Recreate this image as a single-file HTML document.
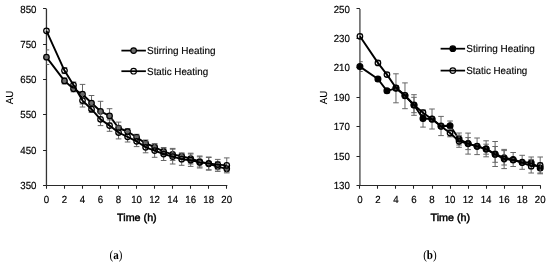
<!DOCTYPE html>
<html><head><meta charset="utf-8"><title>Chart</title>
<style>
html,body{margin:0;padding:0;background:#fff;}
body{width:550px;height:266px;overflow:hidden;}
svg{display:block;text-rendering:geometricPrecision;}
.t{font-family:"Liberation Sans",Arial,sans-serif;font-size:9.7px;fill:#000;stroke:#000;stroke-width:0.2px;}
.lg{font-family:"Liberation Sans",Arial,sans-serif;font-size:10.2px;fill:#000;stroke:#000;stroke-width:0.15px;}
.au{font-family:"Liberation Sans",Arial,sans-serif;font-size:10.2px;fill:#000;stroke:#000;stroke-width:0.1px;}
.n{font-family:"Liberation Sans",Arial,sans-serif;font-size:10.3px;fill:#000;stroke:#000;stroke-width:0.18px;}
.b{font-family:"Liberation Sans",Arial,sans-serif;font-size:10.4px;font-weight:normal;fill:#000;stroke:#000;stroke-width:0.45px;}
.c{font-family:"Liberation Serif","Times New Roman",serif;font-size:12.5px;fill:#000;}
</style></head>
<body>
<svg width="550" height="266" viewBox="0 0 550 266">
<rect width="550" height="266" fill="#fff"/>
<clipPath id="cl"><rect x="46.45" y="0" width="184.30" height="185.50"/></clipPath>
<path d="M46.45 8.90V185.50" fill="none" stroke="#333" stroke-width="1.3"/>
<path d="M46.45 185.50H227.35" fill="none" stroke="#2a2a2a" stroke-width="1.2"/>
<text x="36.45" y="12.50" text-anchor="end" class="n" textLength="16.20" lengthAdjust="spacingAndGlyphs">850</text>
<text x="36.45" y="47.82" text-anchor="end" class="n" textLength="16.20" lengthAdjust="spacingAndGlyphs">750</text>
<text x="36.45" y="83.14" text-anchor="end" class="n" textLength="16.20" lengthAdjust="spacingAndGlyphs">650</text>
<text x="36.45" y="118.46" text-anchor="end" class="n" textLength="16.20" lengthAdjust="spacingAndGlyphs">550</text>
<text x="36.45" y="153.78" text-anchor="end" class="n" textLength="16.20" lengthAdjust="spacingAndGlyphs">450</text>
<text x="36.45" y="189.10" text-anchor="end" class="n" textLength="16.20" lengthAdjust="spacingAndGlyphs">350</text>
<text x="46.45" y="202.80" text-anchor="middle" class="n" textLength="5.40" lengthAdjust="spacingAndGlyphs">0</text>
<text x="64.48" y="202.80" text-anchor="middle" class="n" textLength="5.40" lengthAdjust="spacingAndGlyphs">2</text>
<text x="82.51" y="202.80" text-anchor="middle" class="n" textLength="5.40" lengthAdjust="spacingAndGlyphs">4</text>
<text x="100.54" y="202.80" text-anchor="middle" class="n" textLength="5.40" lengthAdjust="spacingAndGlyphs">6</text>
<text x="118.57" y="202.80" text-anchor="middle" class="n" textLength="5.40" lengthAdjust="spacingAndGlyphs">8</text>
<text x="136.60" y="202.80" text-anchor="middle" class="n" textLength="10.80" lengthAdjust="spacingAndGlyphs">10</text>
<text x="154.63" y="202.80" text-anchor="middle" class="n" textLength="10.80" lengthAdjust="spacingAndGlyphs">12</text>
<text x="172.66" y="202.80" text-anchor="middle" class="n" textLength="10.80" lengthAdjust="spacingAndGlyphs">14</text>
<text x="190.69" y="202.80" text-anchor="middle" class="n" textLength="10.80" lengthAdjust="spacingAndGlyphs">16</text>
<text x="208.72" y="202.80" text-anchor="middle" class="n" textLength="10.80" lengthAdjust="spacingAndGlyphs">18</text>
<text x="226.75" y="202.80" text-anchor="middle" class="n" textLength="10.80" lengthAdjust="spacingAndGlyphs">20</text>
<path d="M43.05 8.50H46.45M43.05 44.50H46.45M43.05 79.50H46.45M43.05 114.50H46.45M43.05 150.50H46.45M43.05 185.50H46.45M46.50 185.50V188.70M64.50 185.50V188.70M82.50 185.50V188.70M100.50 185.50V188.70M118.50 185.50V188.70M136.50 185.50V188.70M154.50 185.50V188.70M172.50 185.50V188.70M190.50 185.50V188.70M208.50 185.50V188.70M226.50 185.50V188.70" fill="none" stroke="#222" stroke-width="1.05"/>
<path d="M46.45 49.90V64.50M43.65 49.90H49.25M43.65 64.50H49.25M64.48 77.90V83.90M61.68 77.90H67.28M61.68 83.90H67.28M73.50 85.80V91.80M70.70 85.80H76.30M70.70 91.80H76.30M82.51 84.40V104.00M79.71 84.40H85.31M79.71 104.00H85.31M91.53 95.50V110.50M88.73 95.50H94.33M88.73 110.50H94.33M100.54 101.30V121.30M97.74 101.30H103.34M97.74 121.30H103.34M109.56 108.70V123.10M106.76 108.70H112.36M106.76 123.10H112.36M118.57 122.10V133.90M115.77 122.10H121.37M115.77 133.90H121.37M127.59 128.50V134.50M124.79 128.50H130.39M124.79 134.50H130.39M136.60 134.30V140.30M133.80 134.30H139.40M133.80 140.30H139.40M145.62 140.00V146.80M142.81 140.00H148.42M142.81 146.80H148.42M154.63 143.80V150.20M151.83 143.80H157.43M151.83 150.20H157.43M163.65 148.30V155.10M160.84 148.30H166.45M160.84 155.10H166.45M172.66 148.40V160.40M169.86 148.40H175.46M169.86 160.40H175.46M181.68 153.20V159.20M178.88 153.20H184.48M178.88 159.20H184.48M190.69 153.20V164.00M187.89 153.20H193.49M187.89 164.00H193.49M199.70 156.00V167.00M196.90 156.00H202.50M196.90 167.00H202.50M208.72 157.50V170.10M205.92 157.50H211.52M205.92 170.10H211.52M217.74 161.80V171.40M214.94 161.80H220.54M214.94 171.40H220.54M226.75 165.80V171.80M223.95 165.80H229.55M223.95 171.80H229.55" fill="none" stroke="#666" stroke-width="1" clip-path="url(#cl)"/>
<polyline points="46.45,57.20 64.48,80.90 73.50,88.80 82.51,94.20 91.53,103.00 100.54,111.30 109.56,115.90 118.57,128.00 127.59,131.50 136.60,137.30 145.62,143.40 154.63,147.00 163.65,151.70 172.66,154.40 181.68,156.20 190.69,158.60 199.70,161.50 208.72,163.80 217.74,166.60 226.75,168.80" fill="none" stroke="#000" stroke-width="1.9" stroke-linejoin="round"/>
<circle cx="46.45" cy="57.20" r="2.75" fill="#6e6e6e" stroke="#000" stroke-width="1.25"/><circle cx="64.48" cy="80.90" r="2.75" fill="#6e6e6e" stroke="#000" stroke-width="1.25"/><circle cx="73.50" cy="88.80" r="2.75" fill="#6e6e6e" stroke="#000" stroke-width="1.25"/><circle cx="82.51" cy="94.20" r="2.75" fill="#6e6e6e" stroke="#000" stroke-width="1.25"/><circle cx="91.53" cy="103.00" r="2.75" fill="#6e6e6e" stroke="#000" stroke-width="1.25"/><circle cx="100.54" cy="111.30" r="2.75" fill="#6e6e6e" stroke="#000" stroke-width="1.25"/><circle cx="109.56" cy="115.90" r="2.75" fill="#6e6e6e" stroke="#000" stroke-width="1.25"/><circle cx="118.57" cy="128.00" r="2.75" fill="#6e6e6e" stroke="#000" stroke-width="1.25"/><circle cx="127.59" cy="131.50" r="2.75" fill="#6e6e6e" stroke="#000" stroke-width="1.25"/><circle cx="136.60" cy="137.30" r="2.75" fill="#6e6e6e" stroke="#000" stroke-width="1.25"/><circle cx="145.62" cy="143.40" r="2.75" fill="#6e6e6e" stroke="#000" stroke-width="1.25"/><circle cx="154.63" cy="147.00" r="2.75" fill="#6e6e6e" stroke="#000" stroke-width="1.25"/><circle cx="163.65" cy="151.70" r="2.75" fill="#6e6e6e" stroke="#000" stroke-width="1.25"/><circle cx="172.66" cy="154.40" r="2.75" fill="#6e6e6e" stroke="#000" stroke-width="1.25"/><circle cx="181.68" cy="156.20" r="2.75" fill="#6e6e6e" stroke="#000" stroke-width="1.25"/><circle cx="190.69" cy="158.60" r="2.75" fill="#6e6e6e" stroke="#000" stroke-width="1.25"/><circle cx="199.70" cy="161.50" r="2.75" fill="#6e6e6e" stroke="#000" stroke-width="1.25"/><circle cx="208.72" cy="163.80" r="2.75" fill="#6e6e6e" stroke="#000" stroke-width="1.25"/><circle cx="217.74" cy="166.60" r="2.75" fill="#6e6e6e" stroke="#000" stroke-width="1.25"/><circle cx="226.75" cy="168.80" r="2.75" fill="#6e6e6e" stroke="#000" stroke-width="1.25"/>
<path d="M46.45 28.80V32.80M43.65 28.80H49.25M43.65 32.80H49.25M64.48 67.60V73.60M61.68 67.60H67.28M61.68 73.60H67.28M73.50 82.00V88.00M70.70 82.00H76.30M70.70 88.00H76.30M82.51 94.20V107.00M79.71 94.20H85.31M79.71 107.00H85.31M91.53 106.00V112.40M88.73 106.00H94.33M88.73 112.40H94.33M100.54 113.00V125.60M97.74 113.00H103.34M97.74 125.60H103.34M109.56 119.90V131.30M106.76 119.90H112.36M106.76 131.30H112.36M118.57 126.10V138.90M115.77 126.10H121.37M115.77 138.90H121.37M127.59 131.60V142.00M124.79 131.60H130.39M124.79 142.00H130.39M136.60 136.00V146.60M133.80 136.00H139.40M133.80 146.60H139.40M145.62 141.80V152.80M142.81 141.80H148.42M142.81 152.80H148.42M154.63 143.90V157.30M151.83 143.90H157.43M151.83 157.30H157.43M163.65 147.50V160.50M160.84 147.50H166.45M160.84 160.50H166.45M172.66 149.20V164.00M169.86 149.20H175.46M169.86 164.00H175.46M181.68 153.10V165.30M178.88 153.10H184.48M178.88 165.30H184.48M190.69 154.00V166.40M187.89 154.00H193.49M187.89 166.40H193.49M199.70 156.80V168.00M196.90 156.80H202.50M196.90 168.00H202.50M208.72 157.00V169.80M205.92 157.00H211.52M205.92 169.80H211.52M217.74 159.40V169.80M214.94 159.40H220.54M214.94 169.80H220.54M226.75 157.90V172.90M223.95 157.90H229.55M223.95 172.90H229.55" fill="none" stroke="#666" stroke-width="1" clip-path="url(#cl)"/>
<polyline points="46.45,30.80 64.48,70.60 73.50,85.00 82.51,100.60 91.53,109.20 100.54,119.30 109.56,125.60 118.57,132.50 127.59,136.80 136.60,141.30 145.62,147.30 154.63,150.60 163.65,154.00 172.66,156.60 181.68,159.20 190.69,160.20 199.70,162.40 208.72,163.40 217.74,164.60 226.75,165.40" fill="none" stroke="#000" stroke-width="1.9" stroke-linejoin="round"/>
<circle cx="46.45" cy="30.80" r="2.75" fill="none" stroke="#000" stroke-width="1.25"/><circle cx="64.48" cy="70.60" r="2.75" fill="none" stroke="#000" stroke-width="1.25"/><circle cx="73.50" cy="85.00" r="2.75" fill="none" stroke="#000" stroke-width="1.25"/><circle cx="82.51" cy="100.60" r="2.75" fill="none" stroke="#000" stroke-width="1.25"/><circle cx="91.53" cy="109.20" r="2.75" fill="none" stroke="#000" stroke-width="1.25"/><circle cx="100.54" cy="119.30" r="2.75" fill="none" stroke="#000" stroke-width="1.25"/><circle cx="109.56" cy="125.60" r="2.75" fill="none" stroke="#000" stroke-width="1.25"/><circle cx="118.57" cy="132.50" r="2.75" fill="none" stroke="#000" stroke-width="1.25"/><circle cx="127.59" cy="136.80" r="2.75" fill="none" stroke="#000" stroke-width="1.25"/><circle cx="136.60" cy="141.30" r="2.75" fill="none" stroke="#000" stroke-width="1.25"/><circle cx="145.62" cy="147.30" r="2.75" fill="none" stroke="#000" stroke-width="1.25"/><circle cx="154.63" cy="150.60" r="2.75" fill="none" stroke="#000" stroke-width="1.25"/><circle cx="163.65" cy="154.00" r="2.75" fill="none" stroke="#000" stroke-width="1.25"/><circle cx="172.66" cy="156.60" r="2.75" fill="none" stroke="#000" stroke-width="1.25"/><circle cx="181.68" cy="159.20" r="2.75" fill="none" stroke="#000" stroke-width="1.25"/><circle cx="190.69" cy="160.20" r="2.75" fill="none" stroke="#000" stroke-width="1.25"/><circle cx="199.70" cy="162.40" r="2.75" fill="none" stroke="#000" stroke-width="1.25"/><circle cx="208.72" cy="163.40" r="2.75" fill="none" stroke="#000" stroke-width="1.25"/><circle cx="217.74" cy="164.60" r="2.75" fill="none" stroke="#000" stroke-width="1.25"/><circle cx="226.75" cy="165.40" r="2.75" fill="none" stroke="#000" stroke-width="1.25"/>
<path d="M121.40 50.60H145.90" stroke="#000" stroke-width="1.75"/>
<circle cx="133.60" cy="50.60" r="2.8" fill="#6e6e6e" stroke="#000" stroke-width="1.2"/>
<text x="147.10" y="54.00" class="lg" textLength="68.5" lengthAdjust="spacingAndGlyphs">Stirring Heating</text>
<path d="M121.40 71.20H145.90" stroke="#000" stroke-width="1.75"/>
<circle cx="133.60" cy="71.20" r="2.8" fill="none" stroke="#000" stroke-width="1.2"/>
<text x="147.10" y="74.60" class="lg" textLength="61.0" lengthAdjust="spacingAndGlyphs">Static Heating</text>
<text x="136.90" y="220.6" text-anchor="middle" class="b" textLength="39.6" lengthAdjust="spacingAndGlyphs">Time (h)</text>
<text transform="translate(13.00 97.45) rotate(-90)" text-anchor="middle" class="au" textLength="13.6" lengthAdjust="spacingAndGlyphs">AU</text>
<text x="116.00" y="259.0" text-anchor="middle" class="c" textLength="12.9" lengthAdjust="spacingAndGlyphs">(<tspan font-weight="bold">a</tspan>)</text>
<clipPath id="cr"><rect x="359.90" y="0" width="184.30" height="185.50"/></clipPath>
<path d="M359.90 8.90V185.50" fill="none" stroke="#707070" stroke-width="1.7"/>
<path d="M359.90 185.50H540.80" fill="none" stroke="#2a2a2a" stroke-width="1.2"/>
<text x="349.90" y="12.50" text-anchor="end" class="n" textLength="16.20" lengthAdjust="spacingAndGlyphs">250</text>
<text x="349.90" y="41.93" text-anchor="end" class="n" textLength="16.20" lengthAdjust="spacingAndGlyphs">230</text>
<text x="349.90" y="71.37" text-anchor="end" class="n" textLength="16.20" lengthAdjust="spacingAndGlyphs">210</text>
<text x="349.90" y="100.80" text-anchor="end" class="n" textLength="16.20" lengthAdjust="spacingAndGlyphs">190</text>
<text x="349.90" y="130.23" text-anchor="end" class="n" textLength="16.20" lengthAdjust="spacingAndGlyphs">170</text>
<text x="349.90" y="159.67" text-anchor="end" class="n" textLength="16.20" lengthAdjust="spacingAndGlyphs">150</text>
<text x="349.90" y="189.10" text-anchor="end" class="n" textLength="16.20" lengthAdjust="spacingAndGlyphs">130</text>
<text x="359.90" y="202.80" text-anchor="middle" class="n" textLength="5.40" lengthAdjust="spacingAndGlyphs">0</text>
<text x="377.93" y="202.80" text-anchor="middle" class="n" textLength="5.40" lengthAdjust="spacingAndGlyphs">2</text>
<text x="395.96" y="202.80" text-anchor="middle" class="n" textLength="5.40" lengthAdjust="spacingAndGlyphs">4</text>
<text x="413.99" y="202.80" text-anchor="middle" class="n" textLength="5.40" lengthAdjust="spacingAndGlyphs">6</text>
<text x="432.02" y="202.80" text-anchor="middle" class="n" textLength="5.40" lengthAdjust="spacingAndGlyphs">8</text>
<text x="450.05" y="202.80" text-anchor="middle" class="n" textLength="10.80" lengthAdjust="spacingAndGlyphs">10</text>
<text x="468.08" y="202.80" text-anchor="middle" class="n" textLength="10.80" lengthAdjust="spacingAndGlyphs">12</text>
<text x="486.11" y="202.80" text-anchor="middle" class="n" textLength="10.80" lengthAdjust="spacingAndGlyphs">14</text>
<text x="504.14" y="202.80" text-anchor="middle" class="n" textLength="10.80" lengthAdjust="spacingAndGlyphs">16</text>
<text x="522.17" y="202.80" text-anchor="middle" class="n" textLength="10.80" lengthAdjust="spacingAndGlyphs">18</text>
<text x="540.20" y="202.80" text-anchor="middle" class="n" textLength="10.80" lengthAdjust="spacingAndGlyphs">20</text>
<path d="M356.50 8.50H359.90M356.50 38.50H359.90M356.50 67.50H359.90M356.50 97.50H359.90M356.50 126.50H359.90M356.50 156.50H359.90M356.50 185.50H359.90M359.50 185.50V188.70M377.50 185.50V188.70M395.50 185.50V188.70M413.50 185.50V188.70M432.50 185.50V188.70M450.50 185.50V188.70M468.50 185.50V188.70M486.50 185.50V188.70M504.50 185.50V188.70M522.50 185.50V188.70M540.50 185.50V188.70" fill="none" stroke="#222" stroke-width="1.05"/>
<path d="M359.90 61.70V71.50M357.10 61.70H362.70M357.10 71.50H362.70M377.93 77.00V81.00M375.13 77.00H380.73M375.13 81.00H380.73M386.94 88.80V92.80M384.14 88.80H389.75M384.14 92.80H389.75M395.96 73.80V102.80M393.16 73.80H398.76M393.16 102.80H398.76M404.97 82.90V108.70M402.17 82.90H407.77M402.17 108.70H407.77M413.99 94.70V115.30M411.19 94.70H416.79M411.19 115.30H416.79M423.00 109.90V127.10M420.20 109.90H425.81M420.20 127.10H425.81M432.02 109.00V129.00M429.22 109.00H434.82M429.22 129.00H434.82M441.03 116.40V135.60M438.23 116.40H443.83M438.23 135.60H443.83M450.05 121.00V130.60M447.25 121.00H452.85M447.25 130.60H452.85M459.06 133.00V145.00M456.26 133.00H461.87M456.26 145.00H461.87M468.08 133.10V154.10M465.28 133.10H470.88M465.28 154.10H470.88M477.09 138.00V154.60M474.29 138.00H479.89M474.29 154.60H479.89M486.11 140.80V156.80M483.31 140.80H488.91M483.31 156.80H488.91M495.12 141.50V166.50M492.32 141.50H497.93M492.32 166.50H497.93M504.14 150.60V165.00M501.34 150.60H506.94M501.34 165.00H506.94M513.15 152.50V166.50M510.35 152.50H515.95M510.35 166.50H515.95M522.17 155.30V169.30M519.37 155.30H524.97M519.37 169.30H524.97M531.18 157.00V168.60M528.38 157.00H533.98M528.38 168.60H533.98M540.20 163.00V173.00M537.40 163.00H543.00M537.40 173.00H543.00" fill="none" stroke="#666" stroke-width="1" clip-path="url(#cr)"/>
<polyline points="359.90,66.60 377.93,79.00 386.94,90.80 395.96,88.30 404.97,95.80 413.99,105.00 423.00,118.50 432.02,119.00 441.03,126.00 450.05,125.80 459.06,139.00 468.08,143.60 477.09,146.30 486.11,148.80 495.12,154.00 504.14,157.80 513.15,159.50 522.17,162.30 531.18,162.80 540.20,168.00" fill="none" stroke="#000" stroke-width="1.9" stroke-linejoin="round"/>
<circle cx="359.90" cy="66.60" r="2.9" fill="#000" stroke="#000" stroke-width="1.25"/><circle cx="377.93" cy="79.00" r="2.9" fill="#000" stroke="#000" stroke-width="1.25"/><circle cx="386.94" cy="90.80" r="2.9" fill="#000" stroke="#000" stroke-width="1.25"/><circle cx="395.96" cy="88.30" r="2.9" fill="#000" stroke="#000" stroke-width="1.25"/><circle cx="404.97" cy="95.80" r="2.9" fill="#000" stroke="#000" stroke-width="1.25"/><circle cx="413.99" cy="105.00" r="2.9" fill="#000" stroke="#000" stroke-width="1.25"/><circle cx="423.00" cy="118.50" r="2.9" fill="#000" stroke="#000" stroke-width="1.25"/><circle cx="432.02" cy="119.00" r="2.9" fill="#000" stroke="#000" stroke-width="1.25"/><circle cx="441.03" cy="126.00" r="2.9" fill="#000" stroke="#000" stroke-width="1.25"/><circle cx="450.05" cy="125.80" r="2.9" fill="#000" stroke="#000" stroke-width="1.25"/><circle cx="459.06" cy="139.00" r="2.9" fill="#000" stroke="#000" stroke-width="1.25"/><circle cx="468.08" cy="143.60" r="2.9" fill="#000" stroke="#000" stroke-width="1.25"/><circle cx="477.09" cy="146.30" r="2.9" fill="#000" stroke="#000" stroke-width="1.25"/><circle cx="486.11" cy="148.80" r="2.9" fill="#000" stroke="#000" stroke-width="1.25"/><circle cx="495.12" cy="154.00" r="2.9" fill="#000" stroke="#000" stroke-width="1.25"/><circle cx="504.14" cy="157.80" r="2.9" fill="#000" stroke="#000" stroke-width="1.25"/><circle cx="513.15" cy="159.50" r="2.9" fill="#000" stroke="#000" stroke-width="1.25"/><circle cx="522.17" cy="162.30" r="2.9" fill="#000" stroke="#000" stroke-width="1.25"/><circle cx="531.18" cy="162.80" r="2.9" fill="#000" stroke="#000" stroke-width="1.25"/><circle cx="540.20" cy="168.00" r="2.9" fill="#000" stroke="#000" stroke-width="1.25"/>
<path d="M359.90 34.30V38.30M357.10 34.30H362.70M357.10 38.30H362.70M377.93 60.90V64.90M375.13 60.90H380.73M375.13 64.90H380.73M386.94 72.60V76.60M384.14 72.60H389.75M384.14 76.60H389.75M395.96 85.80V89.80M393.16 85.80H398.76M393.16 89.80H398.76M404.97 93.30V97.30M402.17 93.30H407.77M402.17 97.30H407.77M413.99 97.30V112.70M411.19 97.30H416.79M411.19 112.70H416.79M423.00 110.70V114.70M420.20 110.70H425.81M420.20 114.70H425.81M432.02 117.20V121.20M429.22 117.20H434.82M429.22 121.20H434.82M441.03 124.30V128.30M438.23 124.30H443.83M438.23 128.30H443.83M450.05 129.20V136.80M447.25 129.20H452.85M447.25 136.80H452.85M459.06 135.30V147.30M456.26 135.30H461.87M456.26 147.30H461.87M468.08 137.60V149.60M465.28 137.60H470.88M465.28 149.60H470.88M477.09 144.30V148.30M474.29 144.30H479.89M474.29 148.30H479.89M486.11 144.20V154.20M483.31 144.20H488.91M483.31 154.20H488.91M495.12 146.50V162.30M492.32 146.50H497.93M492.32 162.30H497.93M504.14 149.40V168.60M501.34 149.40H506.94M501.34 168.60H506.94M513.15 158.00V162.00M510.35 158.00H515.95M510.35 162.00H515.95M522.17 160.60V164.60M519.37 160.60H524.97M519.37 164.60H524.97M531.18 159.40V173.00M528.38 159.40H533.98M528.38 173.00H533.98M540.20 157.00V173.80M537.40 157.00H543.00M537.40 173.80H543.00" fill="none" stroke="#666" stroke-width="1" clip-path="url(#cr)"/>
<polyline points="359.90,36.30 377.93,62.90 386.94,74.60 395.96,87.80 404.97,95.30 413.99,105.00 423.00,112.70 432.02,119.20 441.03,126.30 450.05,133.00 459.06,141.30 468.08,143.60 477.09,146.30 486.11,149.20 495.12,154.40 504.14,159.00 513.15,160.00 522.17,162.60 531.18,166.20 540.20,165.40" fill="none" stroke="#000" stroke-width="1.9" stroke-linejoin="round"/>
<circle cx="359.90" cy="36.30" r="2.75" fill="none" stroke="#000" stroke-width="1.25"/><circle cx="377.93" cy="62.90" r="2.75" fill="none" stroke="#000" stroke-width="1.25"/><circle cx="386.94" cy="74.60" r="2.75" fill="none" stroke="#000" stroke-width="1.25"/><circle cx="395.96" cy="87.80" r="2.75" fill="none" stroke="#000" stroke-width="1.25"/><circle cx="404.97" cy="95.30" r="2.75" fill="none" stroke="#000" stroke-width="1.25"/><circle cx="413.99" cy="105.00" r="2.75" fill="none" stroke="#000" stroke-width="1.25"/><circle cx="423.00" cy="112.70" r="2.75" fill="none" stroke="#000" stroke-width="1.25"/><circle cx="432.02" cy="119.20" r="2.75" fill="none" stroke="#000" stroke-width="1.25"/><circle cx="441.03" cy="126.30" r="2.75" fill="none" stroke="#000" stroke-width="1.25"/><circle cx="450.05" cy="133.00" r="2.75" fill="none" stroke="#000" stroke-width="1.25"/><circle cx="459.06" cy="141.30" r="2.75" fill="none" stroke="#000" stroke-width="1.25"/><circle cx="468.08" cy="143.60" r="2.75" fill="none" stroke="#000" stroke-width="1.25"/><circle cx="477.09" cy="146.30" r="2.75" fill="none" stroke="#000" stroke-width="1.25"/><circle cx="486.11" cy="149.20" r="2.75" fill="none" stroke="#000" stroke-width="1.25"/><circle cx="495.12" cy="154.40" r="2.75" fill="none" stroke="#000" stroke-width="1.25"/><circle cx="504.14" cy="159.00" r="2.75" fill="none" stroke="#000" stroke-width="1.25"/><circle cx="513.15" cy="160.00" r="2.75" fill="none" stroke="#000" stroke-width="1.25"/><circle cx="522.17" cy="162.60" r="2.75" fill="none" stroke="#000" stroke-width="1.25"/><circle cx="531.18" cy="166.20" r="2.75" fill="none" stroke="#000" stroke-width="1.25"/><circle cx="540.20" cy="165.40" r="2.75" fill="none" stroke="#000" stroke-width="1.25"/>
<path d="M440.60 48.70H465.10" stroke="#000" stroke-width="1.75"/>
<circle cx="452.80" cy="48.70" r="2.8" fill="#000" stroke="#000" stroke-width="1.2"/>
<text x="466.30" y="52.10" class="lg" textLength="68.5" lengthAdjust="spacingAndGlyphs">Stirring Heating</text>
<path d="M440.60 70.60H465.10" stroke="#000" stroke-width="1.75"/>
<circle cx="452.80" cy="70.60" r="2.8" fill="none" stroke="#000" stroke-width="1.2"/>
<text x="466.30" y="74.00" class="lg" textLength="61.0" lengthAdjust="spacingAndGlyphs">Static Heating</text>
<text x="450.35" y="220.6" text-anchor="middle" class="b" textLength="39.6" lengthAdjust="spacingAndGlyphs">Time (h)</text>
<text transform="translate(327.20 97.45) rotate(-90)" text-anchor="middle" class="au" textLength="13.6" lengthAdjust="spacingAndGlyphs">AU</text>
<text x="429.90" y="259.0" text-anchor="middle" class="c" textLength="13.5" lengthAdjust="spacingAndGlyphs">(<tspan font-weight="bold">b</tspan>)</text>
</svg>
</body></html>
